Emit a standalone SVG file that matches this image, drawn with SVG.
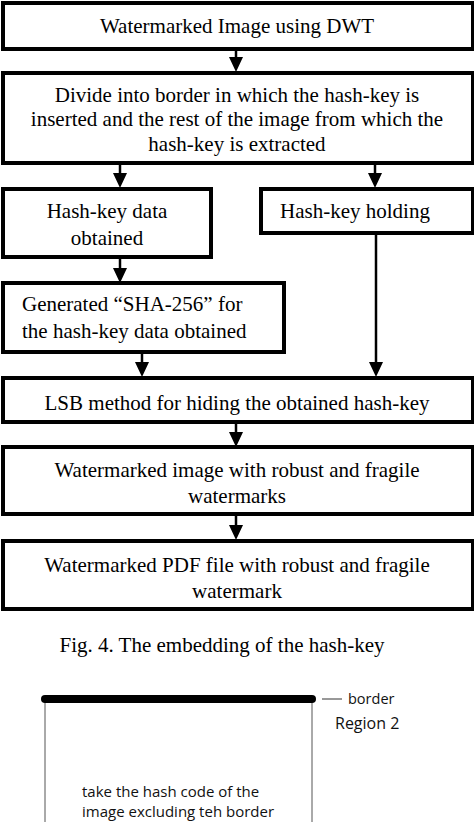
<svg xmlns="http://www.w3.org/2000/svg" width="474" height="822" viewBox="0 0 474 822">
<defs>
<style>
.box{fill:#fff;stroke:#000;stroke-width:4}
.t{font-family:"Liberation Serif","Times New Roman",serif;font-size:21px;fill:#000;text-anchor:middle}
.tl{font-family:"Liberation Serif","Times New Roman",serif;font-size:21px;fill:#000}
.ln{stroke:#000;stroke-width:2.5;fill:none}
.hd{fill:#000}
.s{font-family:"Open Sans","Noto Sans",sans-serif;font-size:15px;fill:#111}
</style>
</defs>
<rect width="474" height="822" fill="#fff"/>
<g id="n1"><rect class="box" x="3" y="3" width="470" height="46"/><text class="t" x="237" y="33">Watermarked Image using DWT</text></g>
<g id="n2"><rect class="box" x="3" y="73" width="470" height="90"/>
<text class="t" x="237" y="102">Divide into border in which the hash-key is</text>
<text class="t" x="237" y="126">inserted and the rest of the image from which the</text>
<text class="t" x="237" y="151">hash-key is extracted</text></g>
<g id="n3"><rect class="box" x="3" y="189" width="208" height="68"/>
<text class="t" x="107" y="218">Hash-key data</text>
<text class="t" x="107" y="245">obtained</text></g>
<g id="n4"><rect class="box" x="261" y="189" width="212" height="44"/>
<text class="t" x="355" y="218">Hash-key holding</text></g>
<g id="n5"><rect class="box" x="3" y="283" width="281" height="69"/>
<text class="tl" x="22" y="311">Generated “SHA-256” for</text>
<text class="tl" x="22" y="338">the hash-key data obtained</text></g>
<g id="n6"><rect class="box" x="3" y="378" width="470" height="44"/>
<text class="t" x="237" y="410">LSB method for hiding the obtained hash-key</text></g>
<g id="n7"><rect class="box" x="3" y="447" width="470" height="67"/>
<text class="t" x="237" y="477">Watermarked image with robust and fragile</text>
<text class="t" x="237" y="503">watermarks</text></g>
<g id="n8"><rect class="box" x="3" y="541" width="470" height="68"/>
<text class="t" x="237" y="572">Watermarked PDF file with robust and fragile</text>
<text class="t" x="237" y="598">watermark</text></g>
<g id="connectors">
<line class="ln" x1="236" y1="51" x2="236" y2="60"/><polygon class="hd" points="229,57 243,57 236,72"/>
<line class="ln" x1="120" y1="165" x2="120" y2="176"/><polygon class="hd" points="113,173 127,173 120,188"/>
<line class="ln" x1="375" y1="165" x2="375" y2="176"/><polygon class="hd" points="368,173 382,173 375,188"/>
<line class="ln" x1="120" y1="259" x2="120" y2="271"/><polygon class="hd" points="113,268 127,268 120,283"/>
<line class="ln" x1="142" y1="354" x2="142" y2="366"/><polygon class="hd" points="135,362 149,362 142,377"/>
<line class="ln" x1="376" y1="235" x2="376" y2="366"/><polygon class="hd" points="369,362 383,362 376,377"/>
<line class="ln" x1="236" y1="424" x2="236" y2="435"/><polygon class="hd" points="229,432 243,432 236,447"/>
<line class="ln" x1="236" y1="514" x2="236" y2="528"/><polygon class="hd" points="229,525 243,525 236,540"/>
</g>
<text class="t" x="222" y="652">Fig. 4. The embedding of the hash-key</text>
<g id="region">
<line x1="45" y1="699" x2="45" y2="822" stroke="#555" stroke-width="1"/>
<line x1="312" y1="699" x2="312" y2="822" stroke="#555" stroke-width="1"/>
<line x1="45" y1="699" x2="312" y2="699" stroke="#000" stroke-width="8" stroke-linecap="round"/>
<line x1="322" y1="699" x2="342" y2="699" stroke="#333" stroke-width="1"/>
<text class="s" x="348" y="704" style="font-size:14.5px">border</text>
<text class="s" x="335" y="729" style="font-size:16px">Region 2</text>
<text class="s" x="82" y="797">take the hash code of the</text>
<text class="s" x="82" y="817">image excluding teh border</text>
</g>
</svg>
